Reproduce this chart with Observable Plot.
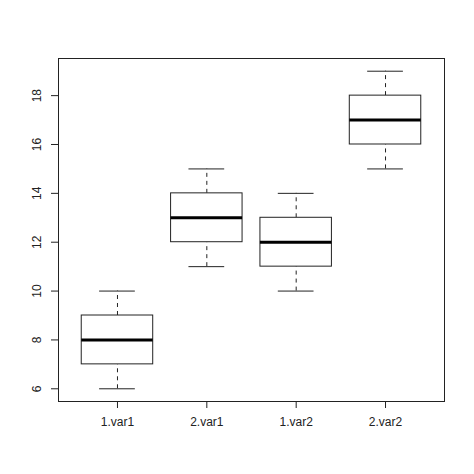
<!DOCTYPE html>
<html>
<head>
<meta charset="utf-8">
<script src="https://cdn.jsdelivr.net/npm/d3@7"></script>
<script src="https://cdn.jsdelivr.net/npm/@observablehq/plot@0.6"></script>
<style>
  html, body { margin: 0; padding: 0; background: #fff; }
  #chart { width: 474px; height: 474px; }
</style>
</head>
<body>
<div id="chart"></div>
<script>
const categories = ["1.var1", "2.var1", "1.var2", "2.var2"];
const mins    = [6, 11, 10, 15];
const q1s     = [7, 12, 11, 16];
const medians = [8, 13, 12, 17];
const q3s     = [9, 14, 13, 18];
const maxs    = [10, 15, 14, 19];
const yTicks  = [6, 8, 10, 12, 14, 16, 18];

const boxes = categories.map((c, i) => ({
  cat: c, pos: i + 1,
  min: mins[i], q1: q1s[i], med: medians[i], q3: q3s[i], max: maxs[i]
}));

const bw = 0.4;   // half box width
const cw = 0.2;   // half whisker cap width
const ink = "#222";

const chart = Plot.plot({
  width: 474,
  height: 474,
  marginLeft: 58,
  marginRight: 30,
  marginTop: 58,
  marginBottom: 73,
  style: { fontFamily: "'Liberation Sans', Arial, sans-serif", fontSize: "12px", background: "#fff" },
  x: { type: "linear", domain: [0.34, 4.66] },
  y: { domain: [5.48, 19.52] },
  marks: [
    Plot.frame({ stroke: ink, strokeWidth: 1 }),
    // whiskers (dashed)
    Plot.ruleX(boxes, { x: "pos", y1: "q3", y2: "max", stroke: ink, strokeDasharray: "4,4" }),
    Plot.ruleX(boxes, { x: "pos", y1: "min", y2: "q1", stroke: ink, strokeDasharray: "4,4" }),
    // whisker caps
    Plot.ruleY(boxes, { y: "max", x1: d => d.pos - cw, x2: d => d.pos + cw, stroke: ink }),
    Plot.ruleY(boxes, { y: "min", x1: d => d.pos - cw, x2: d => d.pos + cw, stroke: ink }),
    // boxes
    Plot.rect(boxes, { x1: d => d.pos - bw, x2: d => d.pos + bw, y1: "q1", y2: "q3", fill: "white", stroke: ink }),
    // medians
    Plot.ruleY(boxes, { y: "med", x1: d => d.pos - bw, x2: d => d.pos + bw, stroke: "#000", strokeWidth: 3 }),
    // x axis
    Plot.axisX({
      ticks: categories.map((c, i) => i + 1),
      tickFormat: v => categories[v - 1],
      tickSize: 7, tickPadding: 9, label: null, stroke: ink, color: ink
    }),
    // y axis ticks and rotated labels
    Plot.axisY({ ticks: yTicks, tickSize: 7, text: null, label: null, stroke: ink }),
    Plot.text(yTicks, {
      y: d => d, text: d => String(d), frameAnchor: "left", dx: -21,
      rotate: -90, textAnchor: "middle", lineAnchor: "middle", fill: ink, fontSize: 12
    })
  ]
});
document.getElementById("chart").appendChild(chart);
</script>
</body>
</html>
